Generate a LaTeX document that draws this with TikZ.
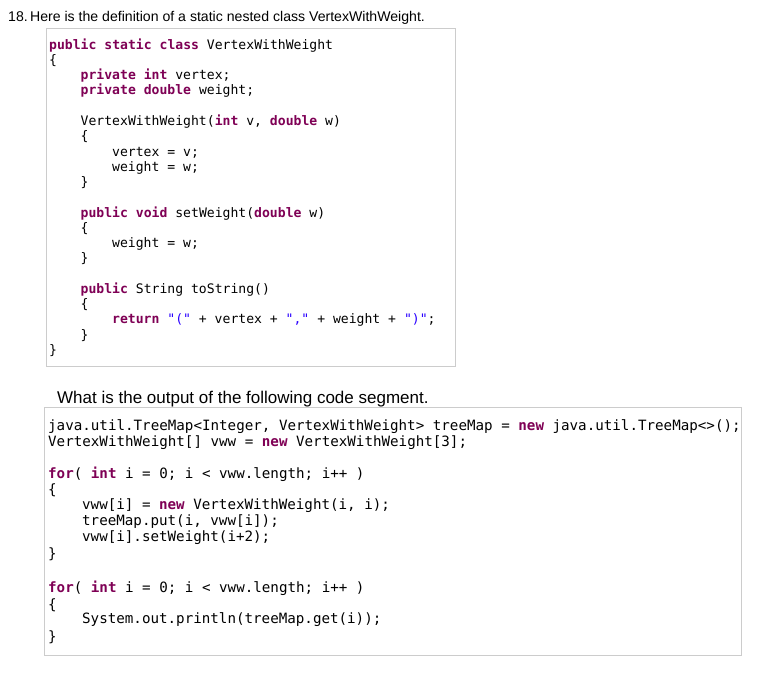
\documentclass[tikz,border=0pt]{standalone}
\usepackage{fontspec}
\setmainfont{Liberation Sans}
\newfontfamily\codefont{DejaVu Sans Mono}
\definecolor{kwc}{HTML}{7F0055}
\definecolor{strc}{HTML}{2A00FF}
\newcommand{\kw}[1]{\textcolor{kwc}{\bfseries #1}}
\newcommand{\st}[1]{\textcolor{strc}{#1}}
\begin{document}
\begin{tikzpicture}[x=1pt,y=-1pt,
  ca/.style={anchor=west,inner sep=0pt,font=\codefont\fontsize{13.1}{14}\selectfont},
  cb/.style={anchor=west,inner sep=0pt,font=\codefont\fontsize{14.2}{15}\selectfont},
  hd/.style={anchor=base west,inner sep=0pt,font=\fontsize{14.1}{17}\selectfont},
  hdb/.style={anchor=base west,inner sep=0pt,font=\fontsize{17}{19}\selectfont},
  box/.style={draw=black!20,line width=0.8pt}]
\useasboundingbox[fill=white] (0,0) rectangle (768,673);
\node[hd] (h1) at (8,21) {18.\,Here is the definition of a static nested class VertexWithWeight.};
\draw[box] (46,28) rectangle (455,366);
\def\a{49}\def\b{80.5}\def\c{112}
\node[ca] (l1) at (\a,46) {\kw{public} \kw{static} \kw{class} VertexWithWeight};
\node[ca] (l2) at (\a,61) {\{};
\node[ca] (l3) at (\b,76) {\kw{private} \kw{int} vertex;};
\node[ca] (l4) at (\b,91) {\kw{private} \kw{double} weight;};
\node[ca] (l5) at (\b,122) {VertexWithWeight(\kw{int} v, \kw{double} w)};
\node[ca] (l6) at (\b,137) {\{};
\node[ca] (l7) at (\c,153) {vertex = v;};
\node[ca] (l8) at (\c,168) {weight = w;};
\node[ca] (l9) at (\b,183) {\}};
\node[ca] (l10) at (\b,214) {\kw{public} \kw{void} setWeight(\kw{double} w)};
\node[ca] (l11) at (\b,229) {\{};
\node[ca] (l12) at (\c,244) {weight = w;};
\node[ca] (l13) at (\b,259) {\}};
\node[ca] (l14) at (\b,290) {\kw{public} String toString()};
\node[ca] (l15) at (\b,305) {\{};
\node[ca] (l16) at (\c,320) {\kw{return} \st{"("} + vertex + \st{","} + weight + \st{")"};};
\node[ca] (l17) at (\b,336) {\}};
\node[ca] (l18) at (\a,351) {\}};
\node[hdb] (h2) at (57,403) {What is the output of the following code segment.};
\draw[box] (44,407) rectangle (741,655);
\def\d{48}\def\e{82}
\node[cb] (m1) at (\d,427) {java.util.TreeMap<Integer, VertexWithWeight> treeMap = \kw{new} java.util.TreeMap<>();};
\node[cb] (m2) at (\d,443) {VertexWithWeight[] vww = \kw{new} VertexWithWeight[3];};
\node[cb] (m3) at (\d,474) {\kw{for}( \kw{int} i = 0; i < vww.length; i++ )};
\node[cb] (m4) at (\d,490) {\{};
\node[cb] (m5) at (\e,506) {vww[i] = \kw{new} VertexWithWeight(i, i);};
\node[cb] (m6) at (\e,522) {treeMap.put(i, vww[i]);};
\node[cb] (m7) at (\e,538) {vww[i].setWeight(i+2);};
\node[cb] (m8) at (\d,554) {\}};
\node[cb] (m9) at (\d,588) {\kw{for}( \kw{int} i = 0; i < vww.length; i++ )};
\node[cb] (m10) at (\d,605) {\{};
\node[cb] (m11) at (\e,620) {System.out.println(treeMap.get(i));};
\node[cb] (m12) at (\d,637) {\}};
\end{tikzpicture}
\end{document}
